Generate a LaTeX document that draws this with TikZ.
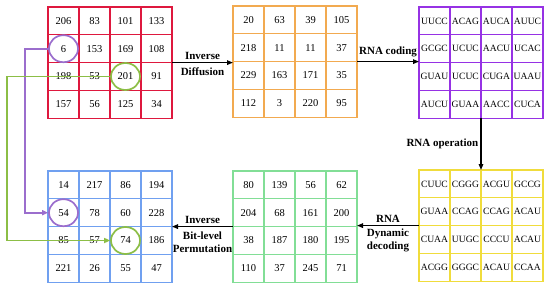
\documentclass[tikz,border=0pt]{standalone}
\usepackage{fontspec}
\setmainfont{Liberation Serif}
\usetikzlibrary{arrows.meta,shapes.geometric}
\definecolor{gred}{RGB}{222,24,62}
\definecolor{gorange}{RGB}{242,170,80}
\definecolor{gpurple}{RGB}{150,50,228}
\definecolor{gblue}{RGB}{112,160,240}
\definecolor{ggreen}{RGB}{130,222,150}
\definecolor{gyellow}{RGB}{240,220,60}
\definecolor{lilac}{RGB}{155,110,205}
\definecolor{olive}{RGB}{140,190,70}
\tikzset{
  cell/.style={rectangle, minimum width=31pt, minimum height=27.8pt, inner sep=0pt, line width=1.1pt},
  numcell/.style={cell, font=\fontsize{10.5}{12}\selectfont},
  rnacell/.style={cell, font=\fontsize{9.6}{11}\selectfont},
  gridbox/.style={rectangle, minimum width=124pt, minimum height=111.2pt, inner sep=0pt, outer sep=0pt},
  ell/.style={ellipse, minimum width=29pt, minimum height=27pt, inner sep=0pt, line width=1.7pt},
  arr/.style={line width=1.4pt, -{Triangle[length=6pt,width=4.5pt]}},
  conn/.style={line width=1.7pt, -{Triangle[length=6pt,width=5pt]}},
  lab/.style={font=\fontsize{11}{13}\bfseries, inner sep=2pt, align=center}
}
\newcommand\mkgrid[6]{%
  \node[gridbox] (#1) at ({#2+62},{#3+55.6}) {};
  \foreach \row [count=\r from 0] in {#6} {
    \foreach \v [count=\c from 0] in \row {
      \node[#5, draw=#4] (#1-\r-\c) at ({#2+15.5+31*\c},{#3+13.9+27.8*\r}) {\v};
    }
  }
}
\begin{document}
\begin{tikzpicture}[x=1pt,y=-1pt]
\useasboundingbox (0,0) rectangle (550,287);
% grids
\mkgrid{g1}{48}{7}{gred}{numcell}{{206,83,101,133},{6,153,169,108},{198,53,201,91},{157,56,125,34}}
\mkgrid{g2}{233}{6}{gorange}{numcell}{{20,63,39,105},{218,11,11,37},{229,163,171,35},{112,3,220,95}}
\mkgrid{g3}{419}{7}{gpurple}{rnacell}{{UUCC,ACAG,AUCA,AUUC},{GCGC,UCUC,AACU,UCAC},{GUAU,UCUC,CUGA,UAAU},{AUCU,GUAA,AACC,CUCA}}
\mkgrid{g4}{48}{171}{gblue}{numcell}{{14,217,86,194},{54,78,60,228},{85,57,74,186},{221,26,55,47}}
\mkgrid{g5}{233}{171}{ggreen}{numcell}{{80,139,56,62},{204,68,161,200},{38,187,180,195},{110,37,245,71}}
\mkgrid{g6}{419}{170}{gyellow}{rnacell}{{CUUC,CGGG,ACGU,GCCG},{GUAA,CCAG,CCAG,ACAU},{CUAA,UUGC,CCCU,ACAU},{ACGG,GGGC,ACAU,CCAA}}
% main arrows
\draw[arr] (g1.east) -- (g1.east -| g2.west)
  node[lab, midway, above=0.5pt] {Inverse}
  node[lab, midway, below=2pt] {Diffusion};
\draw[arr] (g2.east) -- (g2.east -| g3.west)
  node[lab, midway, above=1.5pt] {RNA coding};
\draw[arr] (g3.south) -- (g6.north)
  node[lab, midway, left=0pt] {RNA operation};
\draw[arr] (g6.west) -- (g6.west -| g5.east)
  node[lab, midway, above=0pt] {RNA}
  node[lab, midway, below=1pt] {Dynamic\\decoding};
\draw[arr] (g5.west) -- (g5.west -| g4.east)
  node[lab, midway, above=0.5pt] {Inverse}
  node[lab, midway, below=3pt] {Bit-level\\Permutation};
% ellipses
\node[ell, draw=lilac] (e1) at (g1-1-0.center) {};
\node[ell, draw=olive] (e2) at (g1-2-2.center) {};
\node[ell, draw=lilac] (e4) at (g4-1-0.center) {};
\node[ell, draw=olive] (e5) at (g4-2-2.center) {};
% connectors
\coordinate (pturn) at (25,0);
\coordinate (gturn) at (7,0);
\draw[conn, draw=lilac] (e1.west) -- (e1.west -| pturn) |- (e4.west);
\draw[conn, draw=olive] (e2.west) -- (e2.west -| gturn) |- (e5.west);
\end{tikzpicture}
\end{document}
